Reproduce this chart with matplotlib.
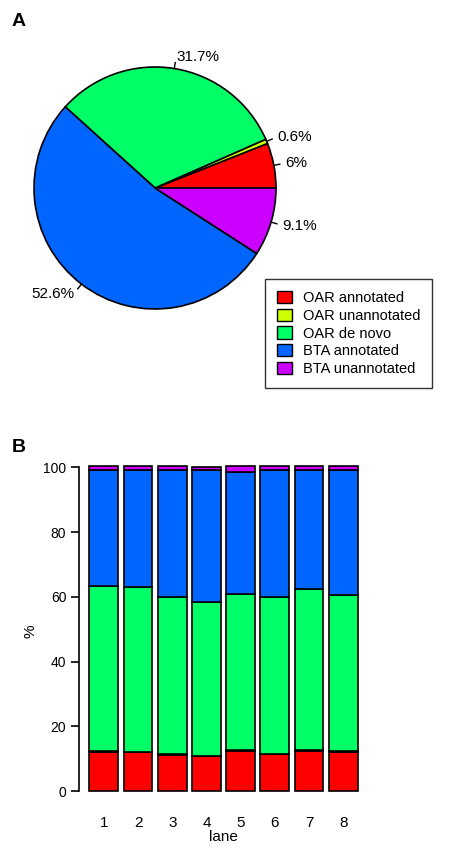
import matplotlib
matplotlib.use("Agg")
import matplotlib.pyplot as plt
import numpy as np

categories = ["OAR annotated", "OAR unannotated", "OAR de novo", "BTA annotated", "BTA unannotated"]
pie_values = [6.0, 0.6, 31.7, 52.6, 9.1]
pie_labels = ["6%", "0.6%", "31.7%", "52.6%", "9.1%"]
colors = ["#FF0000", "#CCFF00", "#00FF66", "#0066FF", "#CC00FF"]

lanes = ["1", "2", "3", "4", "5", "6", "7", "8"]
oar_annot = [12.2, 12.0, 11.3, 10.8, 12.5, 11.4, 12.5, 12.2]
oar_unannot = [0.1, 0.1, 0.1, 0.1, 0.1, 0.1, 0.1, 0.1]
oar_denovo = [51.0, 50.9, 48.6, 47.4, 48.4, 48.5, 49.7, 48.2]
bta_annot = [35.7, 36.0, 39.0, 40.7, 37.6, 39.0, 36.7, 38.5]
bta_unannot = [1.5, 1.4, 1.5, 1.0, 1.9, 1.4, 1.5, 1.4]

fig = plt.figure(figsize=(4.74, 8.49), dpi=100)
W, H = 474, 849
plt.rcParams['font.family'] = ['Liberation Sans', 'DejaVu Sans']

# Pie
cx, cy, r = 155, 188, 121
axp = fig.add_axes([(cx - r) / W, 1 - (cy + r) / H, 2 * r / W, 2 * r / H])
wedges, _ = axp.pie(pie_values, colors=colors, startangle=0, counterclock=True,
                    wedgeprops=dict(edgecolor="black", linewidth=1.2))
axp.set_xlim(-1, 1); axp.set_ylim(-1, 1)
cum = np.cumsum([0] + pie_values)
for i, w in enumerate(wedges):
    mid = np.deg2rad((cum[i] + cum[i + 1]) / 2 * 3.6)
    x0, y0 = np.cos(mid), np.sin(mid)
    axp.plot([x0, 1.05 * x0], [y0, 1.05 * y0], color="black", lw=1, clip_on=False)
    ha = "left" if x0 > 0 else "right"
    axp.text(1.1 * x0, 1.1 * y0, pie_labels[i], ha=ha, va="center", fontsize=11, clip_on=False)
axp.axis("off")

fig.text(12 / W, 1 - 22 / H, "A", fontsize=14, fontweight="bold", va="center")
fig.text(12 / W, 1 - 448 / H, "B", fontsize=14, fontweight="bold", va="center")

from matplotlib.patches import Patch
handles = [Patch(facecolor=c, edgecolor="black") for c in colors]
fig.legend(handles, categories, loc="upper left", bbox_to_anchor=(258 / W, 1 - 272 / H),
           frameon=True, fancybox=False, edgecolor="black", fontsize=10.5,
           handlelength=1.0, handleheight=0.9, borderpad=0.8, labelspacing=0.25)

# Bars
y0p, y100p = 791, 463
x_left, x_right = 85, 362
axb = fig.add_axes([x_left / W, 1 - 810 / H, (x_right - x_left) / W, (810 - 453) / H])
x = np.arange(len(lanes))
bottom = np.zeros(len(lanes))
for vals, c in zip([oar_annot, oar_unannot, oar_denovo, bta_annot, bta_unannot], colors):
    axb.bar(x, vals, bottom=bottom, color=c, edgecolor="black", linewidth=1.2, width=0.84)
    bottom += np.array(vals)
axb.set_xlim(-0.55, 7.55)
axb.set_ylim(-5.8, 104.4)
axb.set_xticks(x)
axb.set_xticklabels(lanes, fontsize=11)
axb.set_yticks([0, 20, 40, 60, 80, 100])
axb.set_yticklabels(["0", "20", "40", "60", "80", "100"], fontsize=11, rotation=90, va="center")
axb.tick_params(axis="x", length=0, pad=4)
axb.tick_params(axis="y", length=6, width=1.2)
for s in ["top", "right", "bottom"]:
    axb.spines[s].set_visible(False)
axb.spines["left"].set_bounds(0, 100)
axb.spines["left"].set_linewidth(1.2)
axb.spines["left"].set_position(("outward", 4))
axb.set_ylabel("%", fontsize=11)
axb.set_xlabel("lane", fontsize=11, labelpad=0)

fig.savefig("out.png", dpi=100)
